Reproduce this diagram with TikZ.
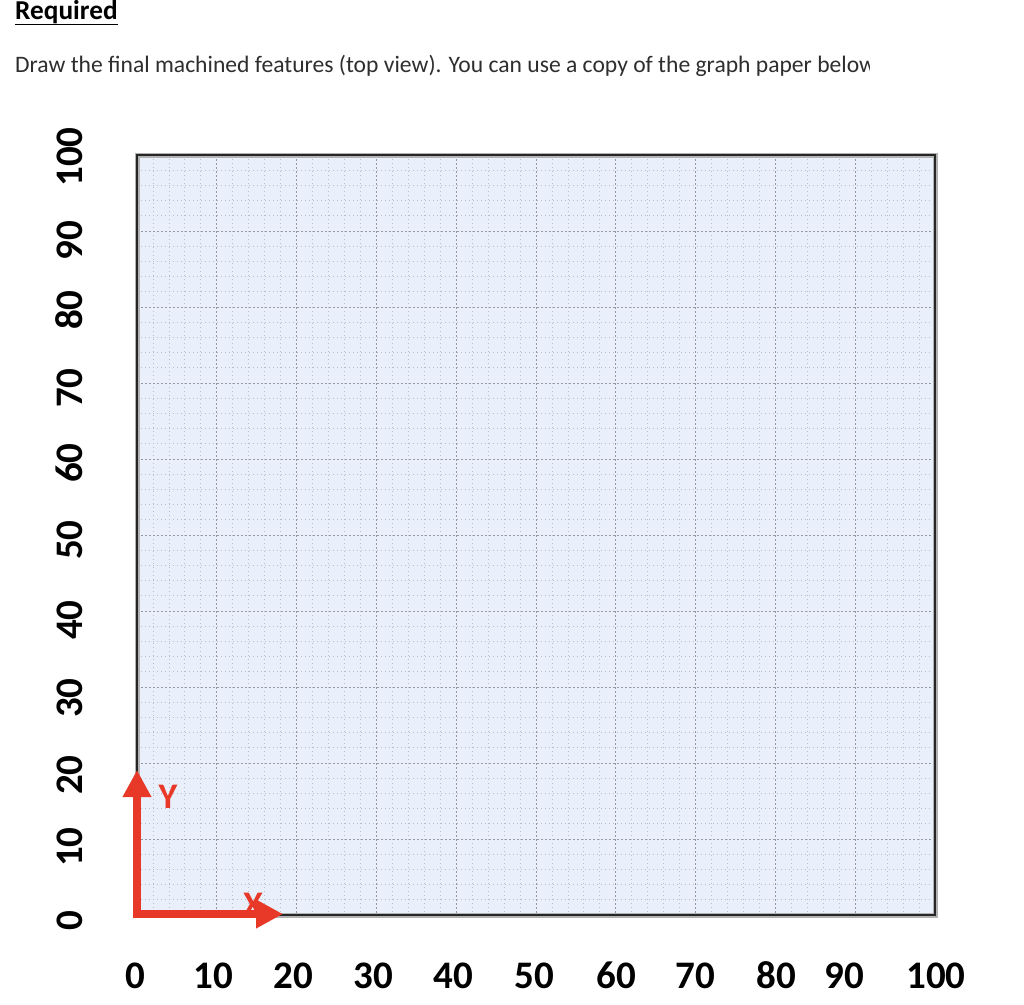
\documentclass[tikz,border=0pt]{standalone}
\usepackage{fontspec}
\setmainfont{Carlito}[Numbers=Lining]
\usetikzlibrary{arrows.meta}
\definecolor{axisred}{RGB}{232,56,40}
\definecolor{paper}{RGB}{233,240,251}
\definecolor{minorc}{RGB}{185,191,202}
\definecolor{majorc}{RGB}{150,152,158}
\begin{document}
\begin{tikzpicture}[x=1pt,y=-1pt,
  numlbl/.style={font=\fontsize{39}{44}\selectfont\bfseries, inner sep=0pt, anchor=base},
  ylbl/.style={numlbl, rotate=90},
  axislbl/.style={font=\fontsize{36}{40}\selectfont\bfseries, text=axisred, inner sep=0pt},
  axisline/.style={draw=axisred, line width=8pt, -{Triangle[length=27pt,width=27pt]}},
  minorline/.style={draw=minorc, line width=0.8pt, dash pattern=on 1.2pt off 2.8pt},
  majorline/.style={draw=majorc, line width=1pt, dash pattern=on 2pt off 2pt}]
\useasboundingbox (0,0) rectangle (1024,1004);
\fill[white] (0,0) rectangle (1024,1004);
% header
\node[anchor=base west, inner sep=0pt, font=\fontsize{27.3}{30}\selectfont\bfseries] (req) at (15,19) {\underline{Required}};
\begin{scope}
\clip (0,30) rectangle (869,90);
\node[anchor=base west, inner sep=0pt, font=\fontsize{23.6}{28}\selectfont, text=black!82] (instr) at (15,72) {Draw the final machined features (top view). You can use a copy of the graph paper below};
\end{scope}
% paper
\coordinate (bl) at (137,915);
\coordinate (tr) at (935,155);
\fill[paper] (bl) rectangle (tr);
\foreach \i in {1,...,49}{
  \pgfmathsetmacro{\xx}{137+\i*15.96}
  \pgfmathsetmacro{\yy}{915-\i*15.2}
  \draw[minorline] (\xx,155) -- (\xx,915);
  \draw[minorline] (137,\yy) -- (935,\yy);
}
\foreach \i in {1,...,9}{
  \pgfmathsetmacro{\xx}{137+\i*79.8}
  \pgfmathsetmacro{\yy}{915-\i*76}
  \draw[majorline] (\xx,155) -- (\xx,915);
  \draw[majorline] (137,\yy) -- (935,\yy);
}
\draw[gray!60, line width=5pt] (bl) rectangle (tr);
\draw[black!85, line width=2.6pt] (bl) rectangle (tr);
% y labels
\foreach \v/\yc in {0/921,10/847,20/775,30/698,40/620,50/540,60/463,70/388,80/310,90/241,100/157}{
  \node[ylbl] (y\v) at (82,\yc) {\v};
}
% x labels
\foreach \v/\xc in {0/135,10/213,20/293,30/373,40/453,50/534,60/616,70/695,80/776,90/844,100/936}{
  \node[numlbl] (x\v) at (\xc,988) {\v};
}
% axes
\node[axislbl] (ylab) at (168,797) {Y};
\node[axislbl] (xlab) at (253,905) {X};
\coordinate (o) at (137,918);
\coordinate (ox) at (133,914);
\coordinate (ytip) at (137,770);
\coordinate (xtip) at (283,914);
\draw[axisline] (o) -- (ytip);
\draw[axisline] (ox) -- (xtip);
\end{tikzpicture}
\end{document}
